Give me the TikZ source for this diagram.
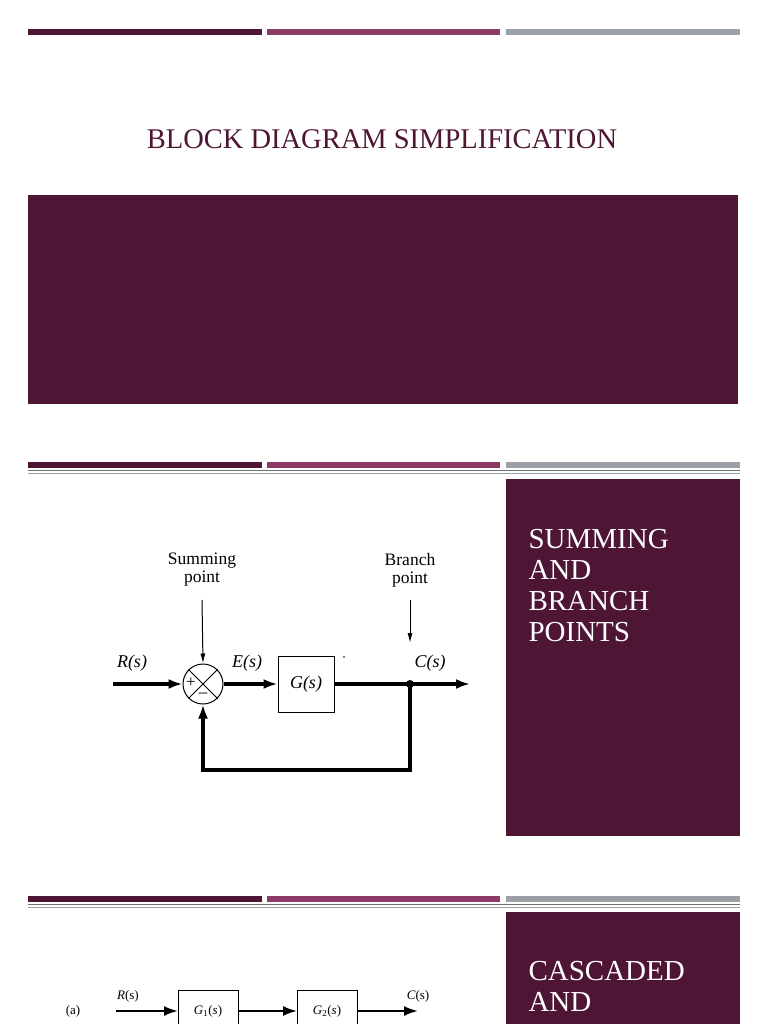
\documentclass[tikz,border=0pt]{standalone}
\usepackage{fontspec}
\setmainfont{Liberation Serif}
\usetikzlibrary{arrows.meta}
\definecolor{maroon}{HTML}{4E1634}
\definecolor{magent}{HTML}{8E3A67}
\definecolor{greyb}{HTML}{9AA0A6}
\begin{document}
\begin{tikzpicture}[x=1pt,y=-1pt,
  sidetxt/.style={text=white,font=\fontsize{29}{31}\selectfont,align=left,anchor=north west},
  lbl/.style={font=\fontsize{17.5}{18}\selectfont,align=center},
  ilbl/.style={font=\fontsize{18}{18}\selectfont\itshape},
  blk/.style={draw,line width=1pt,minimum width=56pt,minimum height=56pt,font=\fontsize{18}{18}\selectfont\itshape},
  sig/.style={line width=3.5pt,-{Latex[length=14pt,width=10pt]}},
  thin/.style={line width=1pt,-{Latex[length=10pt,width=5pt]}}]
\useasboundingbox (0,0) rectangle (768,1024);
\fill[white] (0,0) rectangle (768,1024);
% bars
\foreach \y in {29,462,896}{
  \fill[maroon] (28,\y) rectangle (262,\y+6);
  \fill[magent] (267,\y) rectangle (500,\y+6);
  \fill[greyb] (506,\y) rectangle (740,\y+6);
}
\foreach \y in {470,904}{ \draw[greyb!70!black,line width=0.8pt] (28,\y) -- (740,\y); \draw[greyb,line width=0.6pt] (28,\y+3) -- (740,\y+3);}
% slide 1
\node[text=maroon,font=\fontsize{28.5}{30}\selectfont] (title) at (382,139) {BLOCK DIAGRAM SIMPLIFICATION};
\fill[maroon] (28,195) rectangle (738,404);
% slide 2
\fill[maroon] (506,479) rectangle (740,836);
\node[sidetxt] (t2) at (525,526) {SUMMING\\AND\\BRANCH\\POINTS};
\node[lbl] (sl) at (202,570) {Summing\\point};
\node[lbl] (bl) at (410,570) {Branch\\point};
\node[draw,circle,line width=1pt,minimum size=40pt,inner sep=0pt] (sum) at (203,684) {};
\draw[line width=1pt] (sum.north west) -- (sum.south east) (sum.north east) -- (sum.south west);
\node[font=\fontsize{17}{17}\selectfont] (plus) at (191,683) {+};
\node[font=\fontsize{17}{17}\selectfont] (minus) at (203,695) {–};
\node[blk] (g) at (306,684) {G(s)};
\fill (410,684) circle (4pt) coordinate (br);
\coordinate (in) at (113,684);
\coordinate (out) at (470,684);
\coordinate (c1) at (410,770);
\coordinate (c2) at (203,770);
\coordinate (sa) at (202,600);
\coordinate (ba) at (410,600);
\fill (344,657) circle (0.8pt) coordinate (dot);
\draw[sig] (in) -- (sum.west);
\draw[sig] (sum.east) -- (g.west);
\draw[line width=3.5pt] (g.east) -- (br);
\draw[sig] (br) -- (out);
\draw[sig] (br) -- (c1) -- (c2) -- (sum.south);
\draw[thin] (sa) -- (sum.north);
\draw[thin] (ba) -- (410,643);
\node[ilbl] (rs) at (132,663) {R(s)};
\node[ilbl] (es) at (247,663) {E(s)};
\node[ilbl] (cs) at (430,663) {C(s)};
% slide 3
\fill[maroon] (506,912) rectangle (740,1024);
\node[sidetxt] (t3) at (525,958) {CASCADED\\AND};
\node[font=\fontsize{13}{14}\selectfont] (a) at (73,1011) {(a)};
\node[blk,minimum width=60pt,minimum height=50pt,anchor=north west] (g1) at (178,990) {};
\node[blk,minimum width=60pt,minimum height=50pt,anchor=north west] (g2) at (297,990) {};
\node[font=\fontsize{13}{14}\selectfont] (g1t) at (208,1011) {\textit{G}\textsubscript{1}(\textit{s})};
\node[font=\fontsize{13}{14}\selectfont] (g2t) at (327,1011) {\textit{G}\textsubscript{2}(\textit{s})};
\coordinate (in3) at (116,1011);
\coordinate (out3) at (418,1011);
\draw[sig,line width=2.2pt] (in3) -- (g1.west |- in3);
\draw[sig,line width=2.2pt] (g1.east |- in3) -- (g2.west |- in3);
\draw[sig,line width=2.2pt] (g2.east |- in3) -- (out3);
\node[font=\fontsize{13}{14}\selectfont] (r3) at (128,996) {\textit{R}(s)};
\node[font=\fontsize{13}{14}\selectfont] (c3) at (418,996) {\textit{C}(s)};
\end{tikzpicture}
\end{document}
